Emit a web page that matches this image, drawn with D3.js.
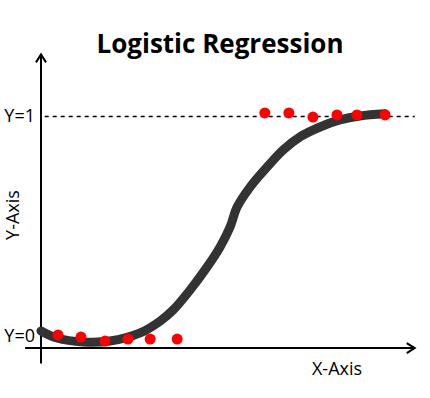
<!DOCTYPE html>
<html>
<head>
<meta charset="utf-8">
<script src="https://cdn.jsdelivr.net/npm/d3@7"></script>
<style>
  body { margin: 0; background: #fff; }
  text { font-family: "Open Sans", sans-serif; }
</style>
</head>
<body>
<div id="chart"></div>
<script>
// fitted sigmoid curve
var curveX = [0, 0.43, 1.14, 1.86, 2.68, 3.22, 3.57, 4.03, 4.49, 4.84, 5.11, 5.30, 5.65, 6.11, 6.54, 7.0, 7.54, 8.08, 8.62, 9.30];
var curveY = [0.023, -0.009, -0.027, -0.023, 0.014, 0.068, 0.118, 0.209, 0.314, 0.405, 0.495, 0.586, 0.677, 0.768, 0.845, 0.905, 0.95, 0.982, 1.0, 1.01];

// observations
var pointX = [0.46, 1.08, 1.73, 2.35, 2.95, 3.68, 6.05, 6.70, 7.35, 8.0, 8.54, 9.30];
var pointY = [0.005, -0.005, -0.023, -0.014, -0.014, -0.014, 1.014, 1.014, 0.995, 1.005, 1.005, 1.005];

var tickValues = [0, 1];
var tickLabels = ['Y=0', 'Y=1'];

var width = 430, height = 398;

var x = d3.scaleLinear().domain([0, 10]).range([41, 411]);
var y = d3.scaleLinear().domain([0, 1]).range([336, 116]);

var svg = d3.select('#chart').append('svg')
  .attr('width', width)
  .attr('height', height);

// title
svg.append('text')
  .attr('x', 220)
  .attr('y', 53)
  .attr('text-anchor', 'middle')
  .style('font-size', '26px')
  .style('font-weight', 'bold')
  .text('Logistic Regression');

// dashed Y=1 line
svg.append('line')
  .attr('x1', x(0.1)).attr('x2', x(10.1))
  .attr('y1', y(1) + 0.5).attr('y2', y(1) + 0.5)
  .attr('stroke', '#000')
  .attr('stroke-width', 1.3)
  .attr('stroke-dasharray', '4,4');

// axes lines
var axisColor = '#000';
svg.append('line')
  .attr('x1', x(0)).attr('x2', x(0))
  .attr('y1', y(-0.125)).attr('y2', y(1.28))
  .attr('stroke', axisColor).attr('stroke-width', 2);
svg.append('line')
  .attr('x1', x(-0.43)).attr('x2', x(10.1))
  .attr('y1', y(-0.055)).attr('y2', y(-0.055))
  .attr('stroke', axisColor).attr('stroke-width', 2);

// arrow heads
svg.append('path')
  .attr('d', 'M' + (x(0) - 5) + ',' + (y(1.28) + 8) + 'L' + x(0) + ',' + y(1.28) + 'L' + (x(0) + 5) + ',' + (y(1.28) + 8))
  .attr('fill', 'none').attr('stroke', axisColor).attr('stroke-width', 2);
svg.append('path')
  .attr('d', 'M' + (x(10.1) - 8) + ',' + (y(-0.055) - 5) + 'L' + x(10.1) + ',' + y(-0.055) + 'L' + (x(10.1) - 8) + ',' + (y(-0.055) + 5))
  .attr('fill', 'none').attr('stroke', axisColor).attr('stroke-width', 2);

// y tick labels
var yAxis = d3.axisLeft(y)
  .tickValues(tickValues)
  .tickSize(0)
  .tickPadding(6)
  .tickFormat(function (d, i) { return tickLabels[i]; });

var gy = svg.append('g')
  .attr('transform', 'translate(' + x(0) + ',0)')
  .call(yAxis);
gy.select('.domain').remove();
gy.selectAll('text')
  .style('font-family', '"Open Sans", sans-serif')
  .style('font-size', '18px')
  .attr('fill', '#000');

// axis titles
svg.append('text')
  .attr('x', 337)
  .attr('y', 375)
  .attr('text-anchor', 'middle')
  .style('font-size', '18px')
  .text('X-Axis');

svg.append('text')
  .attr('transform', 'translate(19,215) rotate(-90)')
  .attr('text-anchor', 'middle')
  .style('font-size', '18px')
  .text('Y-Axis');

// curve
var line = d3.line()
  .x(function (d) { return x(d[0]); })
  .y(function (d) { return y(d[1]); })
  .curve(d3.curveCatmullRom);

svg.append('path')
  .datum(curveX.map(function (v, i) { return [v, curveY[i]]; }))
  .attr('d', line)
  .attr('fill', 'none')
  .attr('stroke', '#333')
  .attr('stroke-width', 9)
  .attr('stroke-linecap', 'round');

// points
svg.selectAll('.dot')
  .data(pointX.map(function (v, i) { return [v, pointY[i]]; }))
  .enter().append('circle')
  .attr('class', 'dot')
  .attr('cx', function (d) { return x(d[0]); })
  .attr('cy', function (d) { return y(d[1]); })
  .attr('r', 5.5)
  .attr('fill', '#ff0000');
</script>
</body>
</html>
